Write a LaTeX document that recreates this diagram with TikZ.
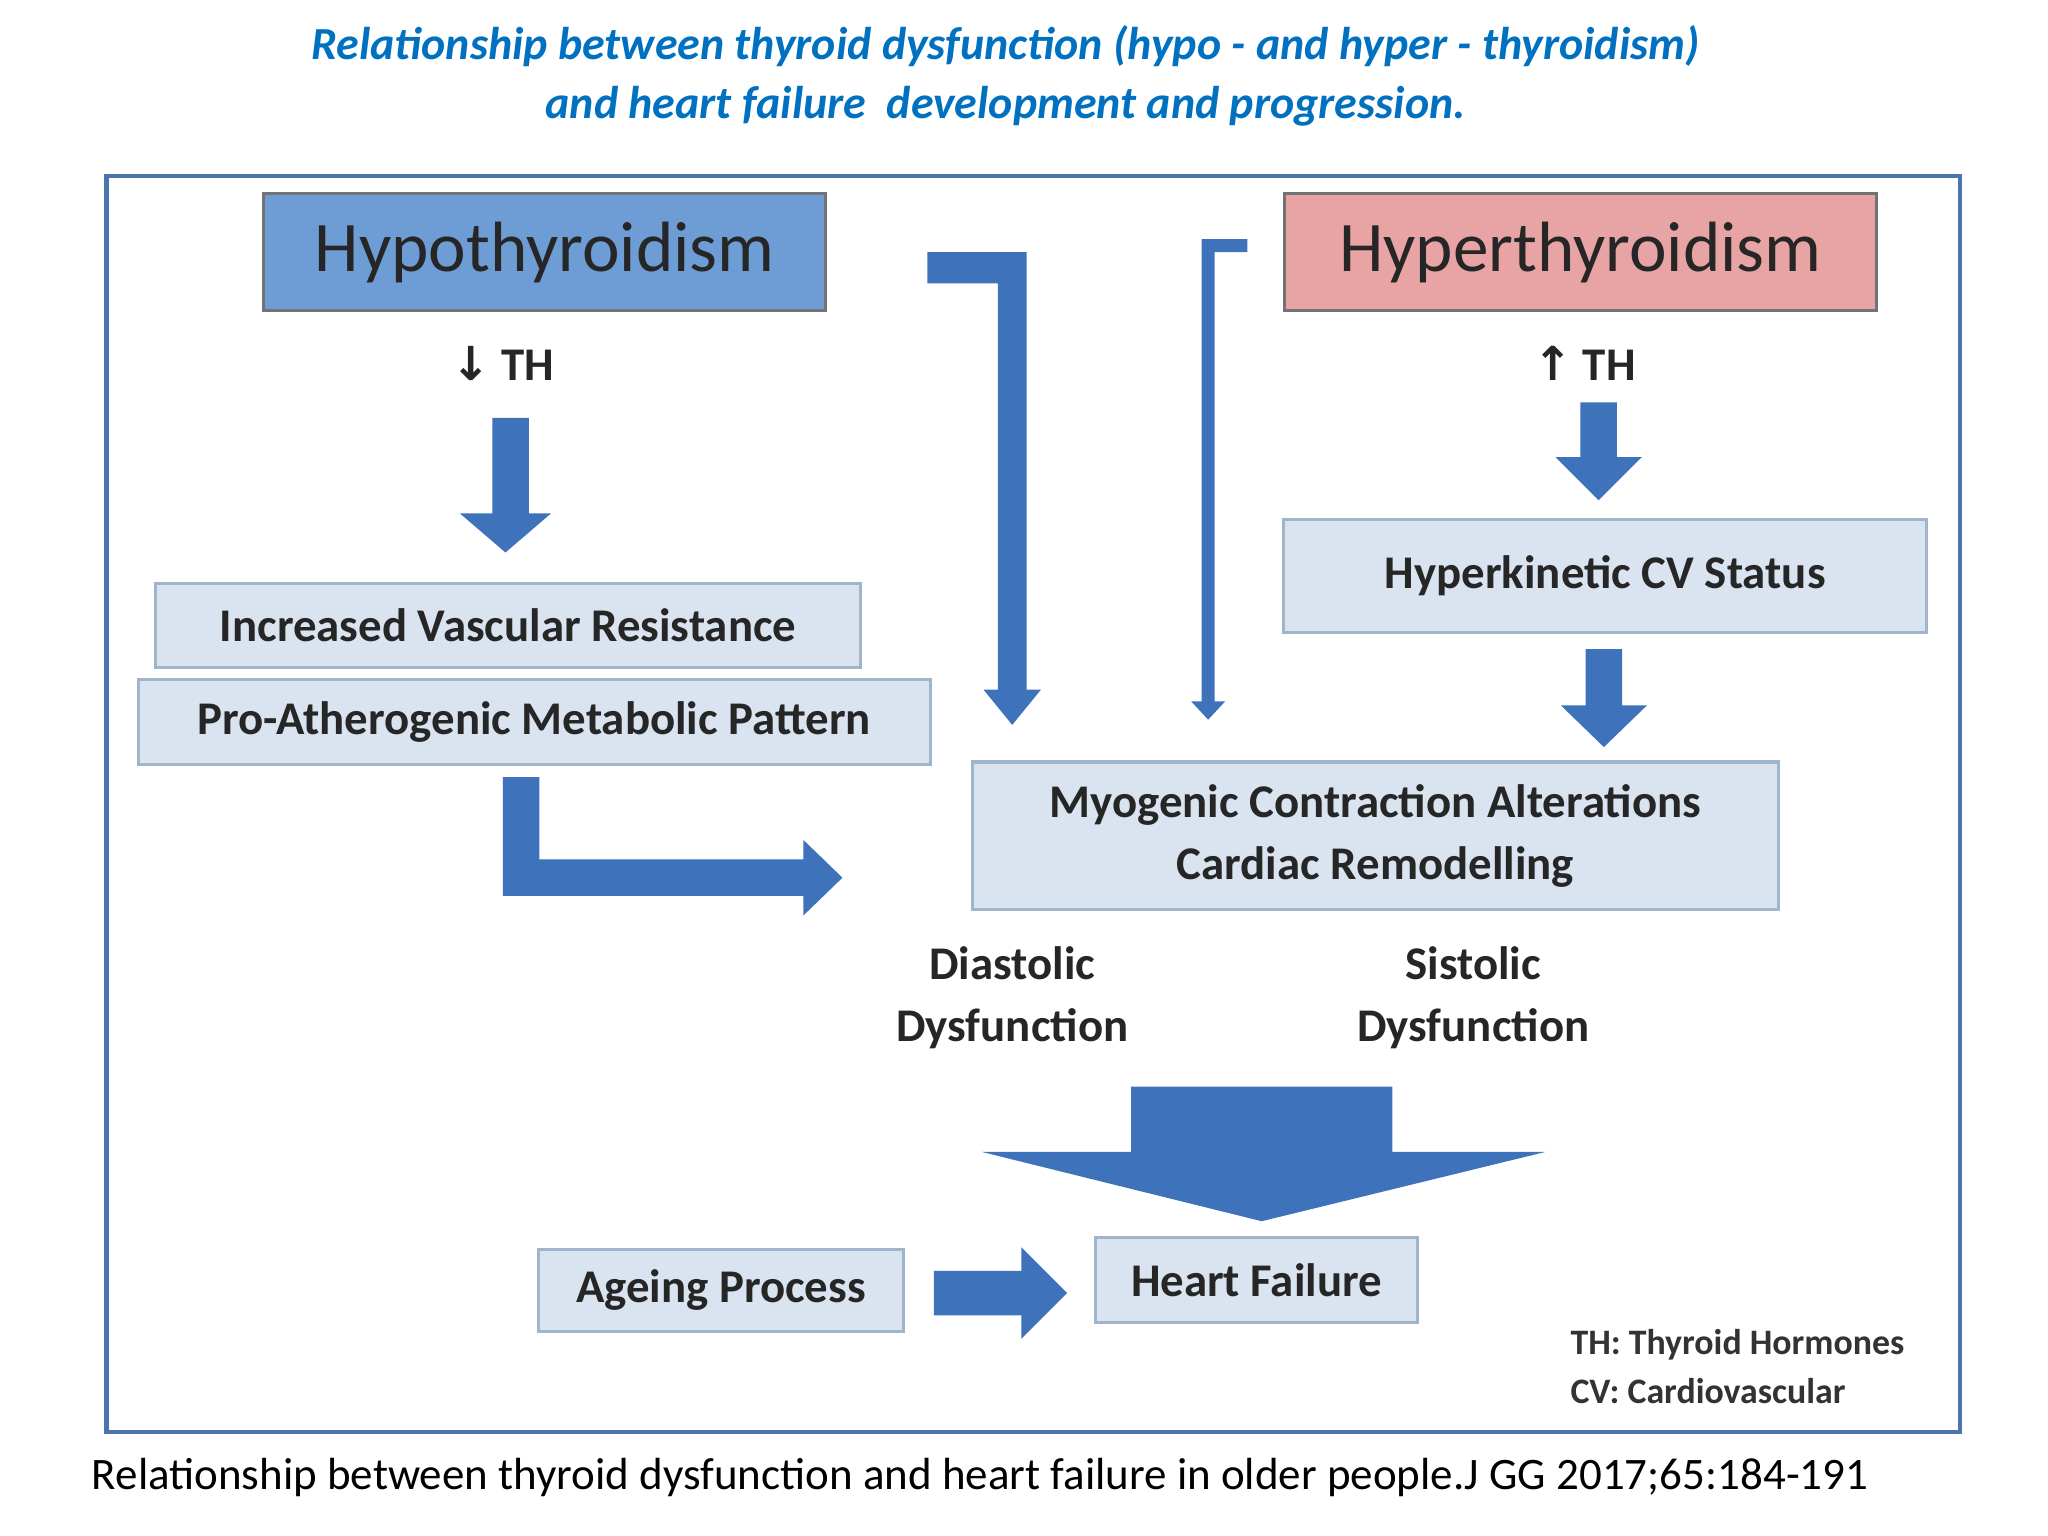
\documentclass[tikz,border=0pt]{standalone}
\usepackage{fontspec}
\setmainfont{Carlito}
\newfontfamily\sym{DejaVu Sans}
\definecolor{tblue}{RGB}{0,112,192}
\definecolor{arr}{RGB}{62,114,186}
\definecolor{lbox}{RGB}{218,228,240}
\definecolor{lbord}{RGB}{160,180,204}
\definecolor{hypo}{RGB}{110,156,212}
\definecolor{hyper}{RGB}{232,164,164}
\begin{document}
\begin{tikzpicture}[x=0.01cm,y=-0.01cm,
  lb/.style={draw=lbord,line width=0.7pt,fill=lbox,inner sep=0pt,font=\fontsize{10.2}{12}\selectfont\bfseries,text=black!85},
  big/.style={draw=black!55,line width=0.7pt,inner sep=0pt,font=\fontsize{15.5}{16}\selectfont,text=black!85},
  ar/.style={fill=arr},
  tx/.style={font=\fontsize{10.2}{13.5}\selectfont\bfseries,text=black!85,align=center}]
\useasboundingbox (0,0) rectangle (1568,1176);
\node[font=\fontsize{10}{13}\selectfont\bfseries\itshape,text=tblue,align=center] (title) at (770,58)
 {Relationship between thyroid dysfunction (hypo - and hyper - thyroidism)\\and heart failure\ \ development and progression.};
\node[draw=arr!80!gray,line width=0.9pt,minimum width=14.18cm,minimum height=9.61cm,inner sep=0pt] (frame) at (791,615.5) {};
\node[big,fill=hypo,minimum width=4.30cm,minimum height=0.90cm] (hypo) at (417,193) {Hypothyroidism};
\node[big,fill=hyper,minimum width=4.53cm,minimum height=0.90cm] (hyper) at (1210,193) {Hyperthyroidism};
\node[tx] (thd) at (385,278) {{\sym ↓} TH};
\node[tx] (thu) at (1213,278) {{\sym ↑} TH};
\node[lb,minimum width=5.39cm,minimum height=0.64cm] (ivr) at (389,479) {Increased Vascular Resistance};
\node[lb,minimum width=6.06cm,minimum height=0.65cm] (pro) at (409,553) {Pro-Atherogenic Metabolic Pattern};
\node[lb,minimum width=4.92cm,minimum height=0.87cm] (hk) at (1229,441) {Hyperkinetic CV Status};
\node[lb,minimum width=6.17cm,minimum height=1.13cm,align=center,font=\fontsize{10.2}{13.5}\selectfont\bfseries] (myo) at (1053,640) {Myogenic Contraction Alterations\\Cardiac Remodelling};
\node[tx] (dia) at (775,764) {Diastolic\\Dysfunction};
\node[tx] (sis) at (1128,764) {Sistolic\\Dysfunction};
\node[lb,minimum width=2.79cm,minimum height=0.63cm] (age) at (552,988) {Ageing Process};
\node[lb,minimum width=2.46cm,minimum height=0.65cm] (hf) at (962,980) {Heart Failure};
\node[font=\fontsize{7.8}{10.8}\selectfont\bfseries,text=black!80,align=left,anchor=north west] (leg) at (1190,1005) {TH: Thyroid Hormones\\CV: Cardiovascular};
\node[font=\fontsize{9.8}{10}\selectfont,anchor=west] (cap) at (58,1131) {Relationship between thyroid dysfunction and heart failure in older people.J GG 2017;65:184-191};
% arrows
\fill[ar] (377,320)--(405,320)--(405,393)--(422,393)--(387,423)--(352,393)--(377,393)--cycle;
\fill[ar] (1210,308)--(1238,308)--(1238,350)--(1257,350)--(1224,383)--(1191,350)--(1210,350)--cycle;
\fill[ar] (1214,497)--(1242,497)--(1242,540)--(1261,540)--(1228,572)--(1195,540)--(1214,540)--cycle;
\fill[ar] (710,193)--(786,193)--(786,528)--(797,528)--(775,555)--(753,528)--(764,528)--(764,217)--(710,217)--cycle;
\fill[ar] (955,183)--(955,193)--(930,193)--(930,537)--(938,537)--(925,551)--(912,537)--(920,537)--(920,183)--cycle;
\fill[ar] (385,595)--(413,595)--(413,658)--(615,658)--(615,643)--(645,672)--(615,701)--(615,686)--(385,686)--cycle;
\fill[ar] (866,832)--(1066,832)--(1066,882)--(1183,882)--(966,935)--(752,882)--(866,882)--cycle;
\fill[ar] (715,973)--(782,973)--(782,955)--(817,990)--(782,1025)--(782,1007)--(715,1007)--cycle;
\end{tikzpicture}
\end{document}
